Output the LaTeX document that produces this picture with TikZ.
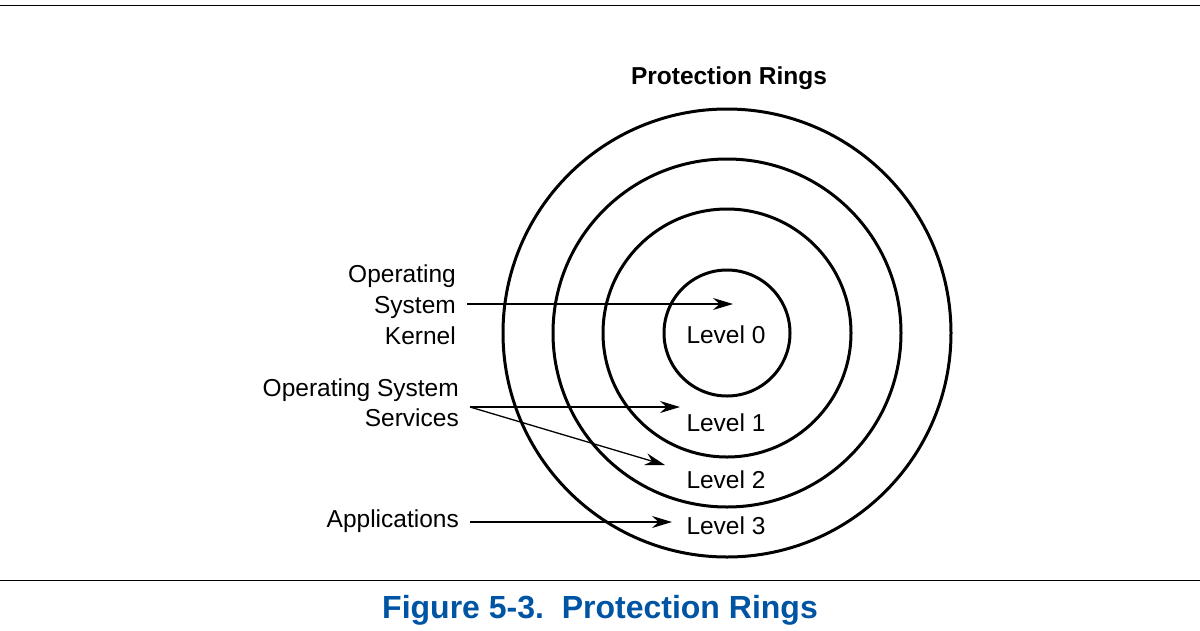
\documentclass[tikz,border=0pt]{standalone}
\usepackage{fontspec}
\setmainfont{Liberation Sans}
\usetikzlibrary{arrows.meta}
\definecolor{capblue}{RGB}{0,84,164}
\begin{document}
\begin{tikzpicture}[x=1pt,y=-1pt,
  ring/.style={draw,line width=3pt},
  lbl/.style={font=\fontsize{24.5}{30}\selectfont,inner sep=0pt},
  arr/.style={line width=1.3pt,-{Stealth[length=20pt,width=12pt]}}]
\useasboundingbox (0,0) rectangle (1200,630);
\draw[line width=1pt] (0,5) -- (1200,5);
\draw[line width=1pt] (0,580) -- (1200,580);
\node[font=\fontsize{24.5}{26}\selectfont\bfseries] (title) at (729,78) {Protection Rings};
\node[font=\fontsize{32}{34}\selectfont\bfseries,text=capblue] (cap) at (600,610) {Figure 5-3.\ \ Protection Rings};
\draw[ring] (727,333) circle (224);
\draw[ring] (727,333) circle (174);
\draw[ring] (727,333) circle (124);
\draw[ring] (727,333) circle (63);
\node[lbl] (l0) at (726,335) {Level 0};
\node[lbl] (l1) at (726,423) {Level 1};
\node[lbl] (l2) at (726,480) {Level 2};
\node[lbl] (l3) at (726,526) {Level 3};
\node[lbl,anchor=east,align=right,font=\fontsize{24.5}{31}\selectfont] (k) at (456,305) {Operating\\System\\Kernel};
\node[lbl,anchor=east,align=right,font=\fontsize{24.5}{30}\selectfont] (s) at (459,403) {Operating System\\Services};
\node[lbl,anchor=east] (a) at (459,521) {Applications};
\coordinate (kt) at (733,304);
\coordinate (s1) at (680,407);
\coordinate (s2) at (665,465);
\coordinate (s0) at (470,407);
\coordinate (at) at (672,522);
\draw[arr] (467,304) -- (kt);
\draw[arr] (s0) -- (s1);
\draw[arr] (s0) -- (s2);
\draw[arr] (470,522) -- (at);
\end{tikzpicture}
\end{document}
